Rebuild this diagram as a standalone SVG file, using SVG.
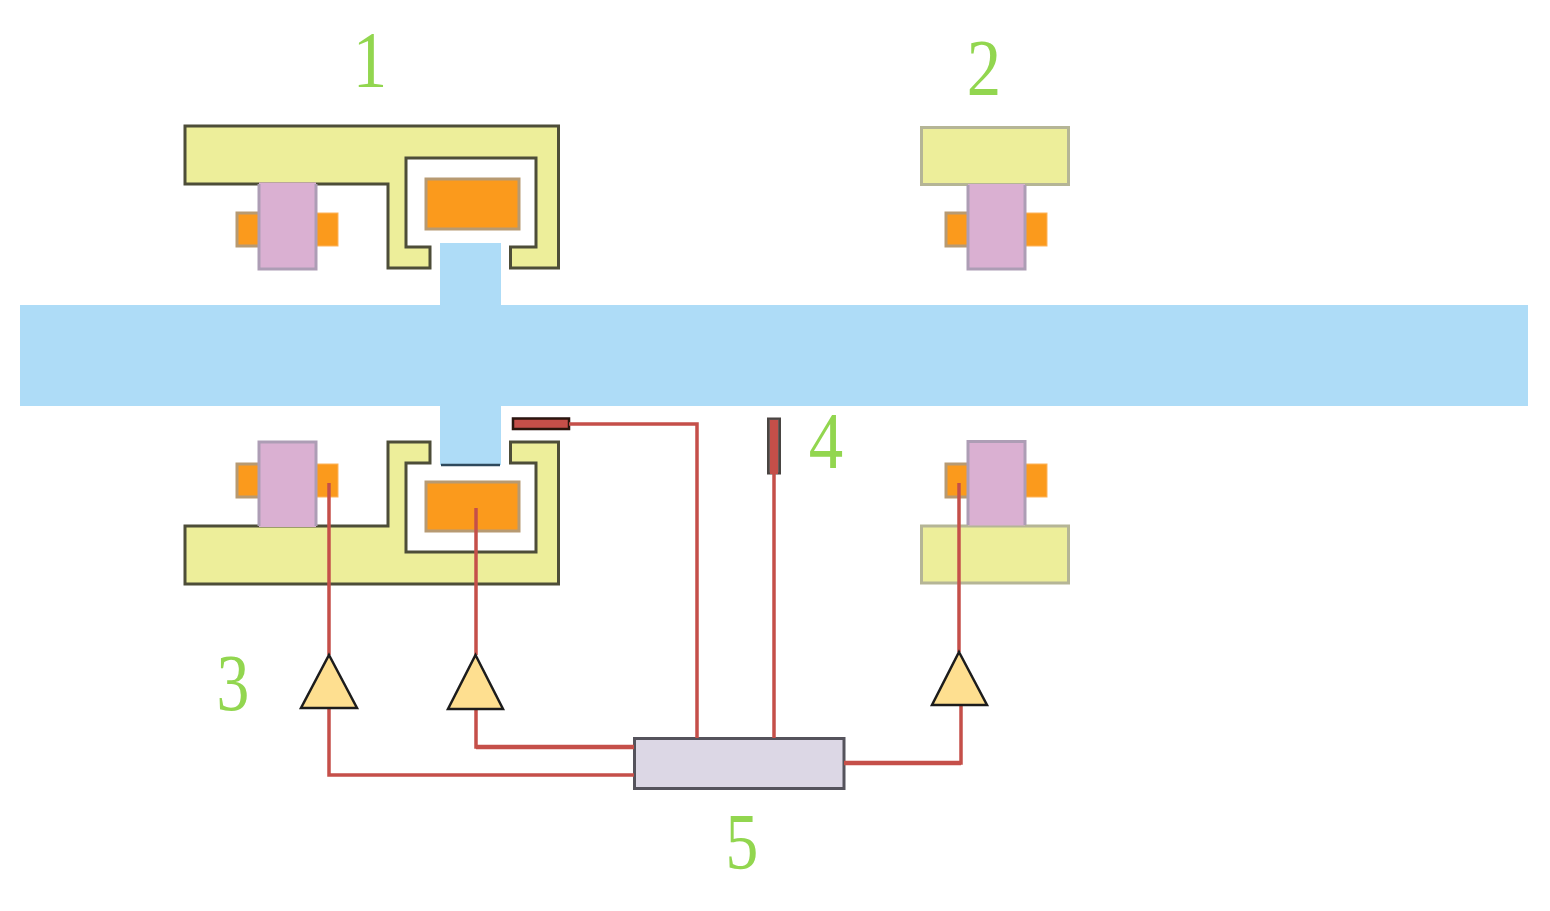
<svg xmlns="http://www.w3.org/2000/svg" width="1550" height="911" viewBox="0 0 1550 911">
<style>
.y{fill:#edee9a;stroke:#4d4d38;stroke-width:3}
.yl{fill:#edee9a;stroke:#b5b596;stroke-width:3}
.pf{fill:#dab0d2}
.pe{fill:none;stroke:#ad9db5;stroke-width:3}
.o{fill:#fb9a1e;stroke:#b79a72;stroke-width:3}
.o2{fill:#fb9a1e;stroke:#fdb45a;stroke-width:1}
.b{fill:#aedcf7}
.t{fill:#fedf90;stroke:#1d1d1d;stroke-width:2.5}
.w{fill:none;stroke:#c5504a;stroke-width:3.5}
.w2{fill:none;stroke:#c5504a;stroke-width:4.5}
.n{font-family:"Liberation Serif","Times New Roman",serif;font-size:80px;fill:#92d650;text-anchor:middle}
</style>
<defs><filter id="s" x="0" y="0" width="100%" height="100%"><feGaussianBlur stdDeviation="0.6"/></filter></defs>
<g filter="url(#s)">
<g id="shaft"><path class="b" d="M20 305H440V243H501V305H1528V406H501V465H440V406H20Z"/><path d="M441 465H500" stroke="#2f4a5c" stroke-width="2.5" fill="none"/></g>
<g id="magnet-top"><path class="y" d="M185 126H558.500V268H510.500V247H536V158H406V247H430V268H388V184H185Z"/><rect class="o" x="426" y="179" width="93" height="50"/></g>
<g id="magnet-bottom"><path class="y" d="M185 584H558.500V442H510.500V463H536V552H406V463H430V442H388V526H185Z"/><rect class="o" x="426" y="482" width="93" height="49"/></g>
<g id="bearing-top-left"><rect class="o" x="237" y="213" width="24" height="33"/><rect class="o2" x="315" y="213" width="23" height="33"/><rect class="pf" x="259" y="182.500" width="57" height="86.500"/><path class="pe" d="M259 184V269H316V184"/></g>
<g id="bearing-bottom-left"><rect class="o" x="237" y="464" width="24" height="33"/><rect class="o2" x="315" y="464" width="23" height="33"/><rect class="pf" x="259" y="442" width="57" height="85"/><path class="pe" d="M259 526V442H316V526"/></g>
<g id="bearing-top-right"><rect class="yl" x="921.500" y="127.500" width="147" height="57"/><rect class="o" x="946" y="213" width="24" height="33"/><rect class="o2" x="1024" y="213" width="23" height="33"/><rect class="pf" x="968" y="184" width="57" height="85"/><path class="pe" d="M968 185V269H1025V185"/></g>
<g id="bearing-bottom-right"><rect class="o" x="946" y="464" width="24" height="33"/><rect class="o2" x="1024" y="464" width="23" height="33"/><rect class="yl" x="921.500" y="526" width="147" height="57"/><rect class="pf" x="968" y="441.500" width="57" height="84"/><path class="pe" d="M968 525V441.500H1025V525"/></g>
<g id="sensor-h"><rect x="513" y="418.500" width="56" height="10.500" fill="#c5504a" stroke="#2a1210" stroke-width="2.500"/></g>
<g id="sensor-v"><rect x="768" y="418.500" width="12" height="55" fill="#6a5a58" stroke="#4a4442" stroke-width="2"/><path d="M774 420V474" stroke="#c5504a" stroke-width="8" fill="none"/></g>
<g id="controller"><rect x="634.500" y="738.500" width="209.500" height="50" fill="#dcd7e5" stroke="#55535c" stroke-width="3"/></g>
<g id="connectors">
<path class="w" d="M329 483V655"/>
<path class="w" d="M476 508V655"/>
<path class="w" d="M959 483V652"/>
<path class="w" d="M329 708V775H634"/>
<path class="w" d="M476 708V747H634"/>
<path class="w" d="M961 705V763H844"/>
<path class="w" d="M569 424H697V738"/>
<path class="w" d="M774 474V738"/>
<path class="w2" d="M476 747H634M844 763H961"/>
</g>
<g id="amp-1"><polygon class="t" points="329,655 357,708 301,708"/></g>
<g id="amp-2"><polygon class="t" points="475.500,655 503,709 448,709"/></g>
<g id="amp-3"><polygon class="t" points="959,652 987,705 932,705"/></g>
<g id="labels">
<text class="n" transform="translate(370 87) scale(.86 1)">1</text>
<text class="n" transform="translate(984 95) scale(.86 1)">2</text>
<text class="n" transform="translate(233 710) scale(.82 1)">3</text>
<text class="n" transform="translate(826 468) scale(.86 1)">4</text>
<text class="n" transform="translate(742 869) scale(.82 1)">5</text>
</g>
</g>
</svg>
